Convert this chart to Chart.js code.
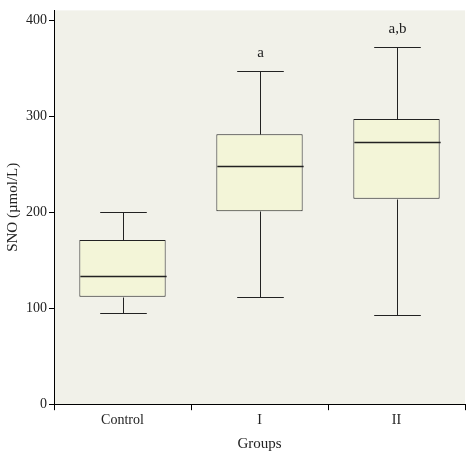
<!DOCTYPE html>
<html><head><meta charset="utf-8">
<script src="https://cdn.jsdelivr.net/npm/chart.js@4"></script>
<style>body{margin:0;background:#fff}#w{width:474px;height:461px}</style>
</head><body><div id="w"><canvas id="c"></canvas></div>
<script>
const categories = ['Control', 'I', 'II'];
const mins = [95, 112, 93];
const q1s = [112, 201, 214];
const medians = [133, 248, 273];
const q3s = [171, 281, 297];
const maxs = [200, 347, 372];
const notes = ['', 'a', 'a,b'];
const yTicks = [0, 100, 200, 300, 400];

const boxPlugin = {
  id: 'box',
  beforeDraw(chart) {
    const a = chart.chartArea, ctx = chart.ctx;
    ctx.save(); ctx.fillStyle = '#f1f1e9';
    ctx.fillRect(a.left, a.top, a.right - a.left, a.bottom - a.top);
    ctx.restore();
  },
  afterDatasetsDraw(chart) {
    const ctx = chart.ctx, x = chart.scales.x, y = chart.scales.y;
    const meta = chart.getDatasetMeta(0);
    ctx.save(); ctx.strokeStyle = '#222'; ctx.lineWidth = 1;
    categories.forEach((c, i) => {
      const cx = Math.round(x.getPixelForValue(i)) + 0.5;
      const bw = meta.data[i].width;
      const cap = bw * 0.27;
      const ln = (x1, y1, x2, y2) => { ctx.beginPath(); ctx.moveTo(x1, y1); ctx.lineTo(x2, y2); ctx.stroke(); };
      const p = v => Math.round(y.getPixelForValue(v)) + 0.5;
      ln(cx, p(q3s[i]), cx, p(maxs[i]));
      ln(cx, p(q1s[i]), cx, p(mins[i]));
      ln(cx - cap, p(maxs[i]), cx + cap, p(maxs[i]));
      ln(cx - cap, p(mins[i]), cx + cap, p(mins[i]));
      ctx.lineWidth = 1.5;
      ln(cx - bw / 2, p(medians[i]), cx + bw / 2, p(medians[i]));
      ctx.lineWidth = 1;
      if (notes[i]) {
        ctx.fillStyle = '#222'; ctx.font = '15px "Liberation Serif"';
        ctx.textAlign = 'center'; ctx.textBaseline = 'bottom';
        ctx.fillText(notes[i], cx, y.getPixelForValue(maxs[i]) - 10);
      }
    });
    ctx.restore();
  }
};

new Chart(document.getElementById('c'), {
  type: 'bar',
  data: { labels: categories, datasets: [{
    data: categories.map((c, i) => [q1s[i], q3s[i]]),
    backgroundColor: '#f3f5d8', borderColor: '#222', borderWidth: 1, borderSkipped: false,
    barPercentage: 0.63, categoryPercentage: 1
  }]},
  options: {
    responsive: true, maintainAspectRatio: false, animation: false,
    layout: { padding: { top: 5, right: 9, left: 0, bottom: 4 } },
    plugins: { legend: { display: false }, tooltip: { enabled: false } },
    scales: {
      x: { grid: { display: true, drawOnChartArea: false, drawTicks: true, tickLength: 6, color: '#000' }, border: { color: '#000' },
           ticks: { color: '#222', padding: 2, font: { family: 'Liberation Serif', size: 14 } },
           title: { display: true, text: 'Groups', color: '#222', padding: { top: 4 }, font: { family: 'Liberation Serif', size: 15 } } },
      y: { min: 0, max: 410, border: { color: '#000' },
           grid: { display: true, drawOnChartArea: false, drawTicks: true, tickLength: 5, color: '#000' },
           afterBuildTicks: ax => { ax.ticks = yTicks.map(v => ({ value: v })); },
           ticks: { color: '#222', padding: 2, font: { family: 'Liberation Serif', size: 14 } },
           title: { display: true, text: 'SNO (µmol/L)', color: '#222', padding: { bottom: 2 }, font: { family: 'Liberation Serif', size: 15 } } }
    }
  },
  plugins: [boxPlugin]
});
</script></body></html>
